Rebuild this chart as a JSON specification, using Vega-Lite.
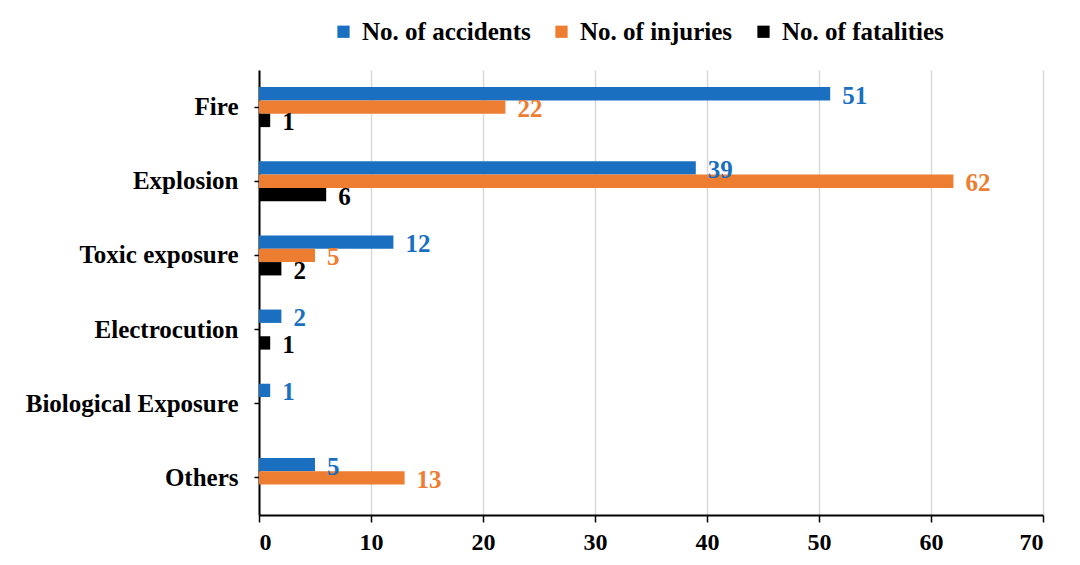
{
  "$schema": "https://vega.github.io/schema/vega-lite/v6.json",
  "autosize": "none",
  "width": 784,
  "height": 445,
  "padding": {"left": 259, "top": 70, "right": 37, "bottom": 50},
  "background": "white",
  "config": {
    "font": "Liberation Serif",
    "view": {"stroke": null}
  },
  "data": {
    "values": [
      {"cause": "Fire", "series": "No. of accidents", "value": 51},
      {"cause": "Fire", "series": "No. of injuries", "value": 22},
      {"cause": "Fire", "series": "No. of fatalities", "value": 1},
      {"cause": "Explosion", "series": "No. of accidents", "value": 39},
      {"cause": "Explosion", "series": "No. of injuries", "value": 62},
      {"cause": "Explosion", "series": "No. of fatalities", "value": 6},
      {"cause": "Toxic exposure", "series": "No. of accidents", "value": 12},
      {"cause": "Toxic exposure", "series": "No. of injuries", "value": 5},
      {"cause": "Toxic exposure", "series": "No. of fatalities", "value": 2},
      {"cause": "Electrocution", "series": "No. of accidents", "value": 2},
      {"cause": "Electrocution", "series": "No. of injuries", "value": 0},
      {"cause": "Electrocution", "series": "No. of fatalities", "value": 1},
      {"cause": "Biological Exposure", "series": "No. of accidents", "value": 1},
      {"cause": "Biological Exposure", "series": "No. of injuries", "value": 0},
      {"cause": "Biological Exposure", "series": "No. of fatalities", "value": 0},
      {"cause": "Others", "series": "No. of accidents", "value": 5},
      {"cause": "Others", "series": "No. of injuries", "value": 13},
      {"cause": "Others", "series": "No. of fatalities", "value": 0}
    ]
  },
  "encoding": {
    "y": {
      "field": "cause",
      "type": "nominal",
      "sort": ["Fire", "Explosion", "Toxic exposure", "Electrocution", "Biological Exposure", "Others"],
      "scale": {"paddingInner": 0.46, "paddingOuter": 0.23},
      "axis": {
        "title": null,
        "domain": true,
        "domainColor": "black",
        "domainWidth": 2,
        "ticks": true,
        "tickColor": "black",
        "tickWidth": 1.5,
        "tickSize": 5,
        "labelFont": "Liberation Serif",
        "labelFontWeight": "bold",
        "labelFontSize": 25,
        "labelColor": "black",
        "labelPadding": 16,
        "labelLimit": 300
      }
    },
    "yOffset": {
      "field": "series",
      "type": "nominal",
      "sort": ["No. of accidents", "No. of injuries", "No. of fatalities"]
    },
    "x": {
      "field": "value",
      "type": "quantitative",
      "scale": {"domain": [0, 70], "nice": false},
      "axis": {
        "title": null,
        "values": [0, 10, 20, 30, 40, 50, 60, 70],
        "grid": true,
        "gridColor": "#d9d9d9",
        "gridWidth": 1.5,
        "domainColor": "black",
        "domainWidth": 2,
        "tickColor": "black",
        "tickWidth": 1.5,
        "tickSize": 7,
        "labelFont": "Liberation Serif",
        "labelFontWeight": "bold",
        "labelFontSize": 24,
        "labelColor": "black",
        "labelPadding": 8
      }
    },
    "color": {
      "field": "series",
      "type": "nominal",
      "sort": ["No. of accidents", "No. of injuries", "No. of fatalities"],
      "scale": {
        "domain": ["No. of accidents", "No. of injuries", "No. of fatalities"],
        "range": ["#1a6fc0", "#ed7d31", "#000000"]
      },
      "legend": {
        "title": null,
        "orient": "none",
        "legendX": 72,
        "legendY": -51,
        "direction": "horizontal",
        "symbolType": "square",
        "symbolSize": 150,
        "symbolStrokeWidth": 0,
        "labelFont": "Liberation Serif",
        "labelFontWeight": "bold",
        "labelFontSize": 25,
        "labelColor": "black",
        "labelOffset": 6,
        "columnPadding": 18,
        "labelLimit": 300
      }
    }
  },
  "layer": [
    {"mark": {"type": "bar"}},
    {
      "transform": [{"filter": "datum.value > 0"}],
      "mark": {
        "type": "text",
        "align": "left",
        "baseline": "middle",
        "dx": 12,
        "dy": 2,
        "font": "Liberation Serif",
        "fontWeight": "bold",
        "fontSize": 25
      },
      "encoding": {
        "text": {"field": "value", "type": "quantitative"}
      }
    }
  ]
}
